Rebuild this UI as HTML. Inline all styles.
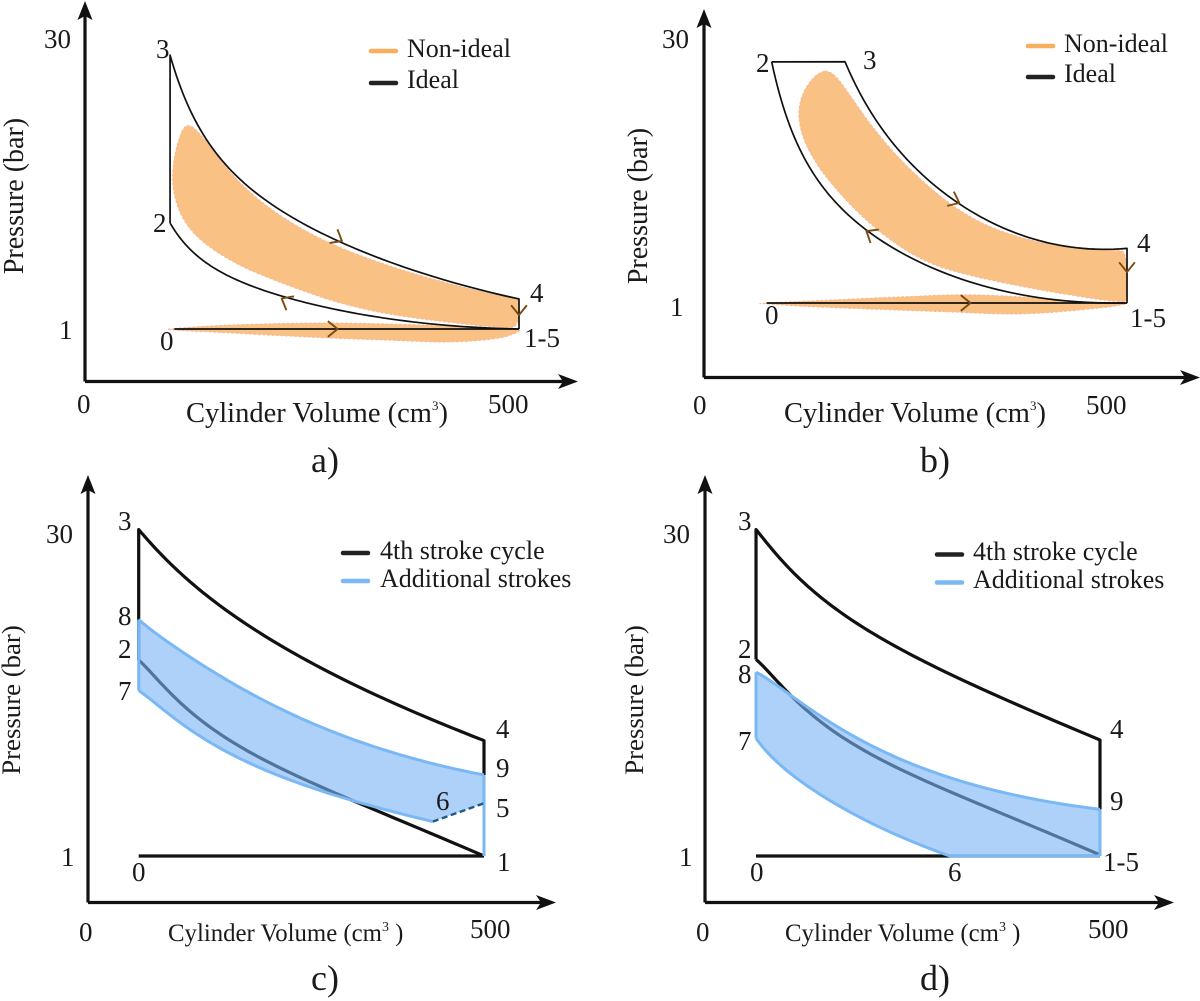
<!DOCTYPE html>
<html lang="en">
<head>
<meta charset="utf-8">
<title>Pressure-volume cycle diagrams</title>
<style>
  html, body { margin: 0; padding: 0; background: #fff; }
  svg { display: block; filter: blur(0.35px); }
  text { font-family: "Liberation Serif", serif; fill: #1a1a1a; }
  .tick { font-size: 27px; }
  .pt { font-size: 27px; }
  .ytitle { font-size: 28px; }
  .xtitle { font-size: 28.5px; }
  .xtitle2 { font-size: 24.8px; }
  .leg { font-size: 26px; }
  .cap { font-size: 36px; }
  .axis { stroke: #111; stroke-width: 3.2; fill: none; }
  .head { fill: #111; stroke: none; }
</style>
</head>
<body>
<svg id="figure" xmlns="http://www.w3.org/2000/svg" width="1200" height="1001" viewBox="0 0 1200 1001">
  <rect x="0" y="0" width="1200" height="1001" fill="#fff"/>

  <!-- Panel a -->
  <g id="panel-a">
    <g id="marks-a"></g>
    <path class="axis" d="M85 381.5V12M85 381.5H566"/>
    <path class="head" d="M85 1L92.5 20L85 16L77.5 20Z"/>
    <path class="head" d="M578 381.5L558 374L563 381.5L558 389Z"/>
    <text class="tick" x="44" y="48">30</text>
    <text class="tick" x="59" y="339">1</text>
    <text class="tick" x="77" y="413">0</text>
    <text class="tick" x="488" y="413">500</text>
    <text class="ytitle" transform="translate(23,196) rotate(-90)" text-anchor="middle">Pressure (bar)</text>
    <text class="xtitle" x="186" y="422">Cylinder Volume (cm<tspan font-size="13" dy="-12">3</tspan><tspan dy="12">)</tspan></text>
    <text class="pt" x="156" y="58">3</text>
    <text class="pt" x="153" y="232">2</text>
    <text class="pt" x="160" y="350">0</text>
    <text class="pt" x="530" y="302">4</text>
    <text class="pt" x="524" y="347">1-5</text>
    <line x1="371" y1="51" x2="396" y2="51" stroke="#f7ae5e" stroke-width="4.5" stroke-linecap="round"/>
    <line x1="371" y1="83" x2="396" y2="83" stroke="#222" stroke-width="4.5" stroke-linecap="round"/>
    <text class="leg" x="407" y="57">Non-ideal</text>
    <text class="leg" x="407" y="88">Ideal</text>
    <text class="cap" x="311" y="472">a)</text>
  </g>

  <!-- Panel b -->
  <g id="panel-b">
    <g id="marks-b"></g>
    <path class="axis" d="M704 377.5V20M704 377.5H1188"/>
    <path class="head" d="M704 9L711.5 28L704 24L696.5 28Z"/>
    <path class="head" d="M1200 377.5L1180 370L1185 377.5L1180 385Z"/>
    <text class="tick" x="662" y="48">30</text>
    <text class="tick" x="670" y="316">1</text>
    <text class="tick" x="693" y="414">0</text>
    <text class="tick" x="1086" y="414">500</text>
    <text class="ytitle" transform="translate(647,206) rotate(-90)" text-anchor="middle">Pressure (bar)</text>
    <text class="xtitle" x="784" y="422">Cylinder Volume (cm<tspan font-size="13" dy="-12">3</tspan><tspan dy="12">)</tspan></text>
    <text class="pt" x="756" y="72">2</text>
    <text class="pt" x="863" y="69">3</text>
    <text class="pt" x="765" y="324">0</text>
    <text class="pt" x="1137" y="252">4</text>
    <text class="pt" x="1130" y="327">1-5</text>
    <line x1="1028" y1="46" x2="1053" y2="46" stroke="#f7ae5e" stroke-width="4.5" stroke-linecap="round"/>
    <line x1="1028" y1="77" x2="1053" y2="77" stroke="#222" stroke-width="4.5" stroke-linecap="round"/>
    <text class="leg" x="1064" y="52">Non-ideal</text>
    <text class="leg" x="1064" y="82">Ideal</text>
    <text class="cap" x="920" y="472">b)</text>
  </g>

  <!-- Panel c -->
  <g id="panel-c">
    <g id="marks-c"></g>
    <path class="axis" d="M88 902.5V486M88 902.5H544"/>
    <path class="head" d="M88 475L95.5 494L88 490L80.5 494Z"/>
    <path class="head" d="M556 902.5L536 895L541 902.5L536 910Z"/>
    <text class="tick" x="46" y="543">30</text>
    <text class="tick" x="61" y="866">1</text>
    <text class="tick" x="79" y="941">0</text>
    <text class="tick" x="470" y="938">500</text>
    <text class="ytitle" style="font-size:26.8px" transform="translate(20,700) rotate(-90)" text-anchor="middle">Pressure (bar)</text>
    <text class="xtitle2" x="168" y="941">Cylinder Volume (cm<tspan font-size="14" dy="-10">3</tspan><tspan dy="10"> )</tspan></text>
    <text class="pt" x="118" y="530">3</text>
    <text class="pt" x="118" y="625">8</text>
    <text class="pt" x="118" y="658">2</text>
    <text class="pt" x="118" y="700">7</text>
    <text class="pt" x="132" y="881">0</text>
    <text class="pt" x="497" y="871">1</text>
    <text class="pt" x="496" y="738">4</text>
    <text class="pt" x="496" y="777">9</text>
    <text class="pt" x="496" y="817">5</text>
    <text class="pt" x="436" y="810">6</text>
    <line x1="343" y1="553" x2="368" y2="553" stroke="#222" stroke-width="4.5" stroke-linecap="round"/>
    <line x1="343" y1="581" x2="368" y2="581" stroke="#7ab8f5" stroke-width="4.5" stroke-linecap="round"/>
    <text class="leg" x="380" y="559">4th stroke cycle</text>
    <text class="leg" x="380" y="587">Additional strokes</text>
    <text class="cap" x="311" y="990">c)</text>
  </g>

  <!-- Panel d -->
  <g id="panel-d">
    <g id="marks-d"></g>
    <path class="axis" d="M705 902.5V486M705 902.5H1162"/>
    <path class="head" d="M705 475L712.5 494L705 490L697.5 494Z"/>
    <path class="head" d="M1174 902.5L1154 895L1159 902.5L1154 910Z"/>
    <text class="tick" x="663" y="543">30</text>
    <text class="tick" x="679" y="866">1</text>
    <text class="tick" x="696" y="941">0</text>
    <text class="tick" x="1088" y="938">500</text>
    <text class="ytitle" style="font-size:26.8px" transform="translate(643,700) rotate(-90)" text-anchor="middle">Pressure (bar)</text>
    <text class="xtitle2" x="785" y="941">Cylinder Volume (cm<tspan font-size="14" dy="-10">3</tspan><tspan dy="10"> )</tspan></text>
    <text class="pt" x="738" y="530">3</text>
    <text class="pt" x="738" y="658">2</text>
    <text class="pt" x="738" y="683">8</text>
    <text class="pt" x="738" y="750">7</text>
    <text class="pt" x="750" y="881">0</text>
    <text class="pt" x="948" y="881">6</text>
    <text class="pt" x="1103" y="871">1-5</text>
    <text class="pt" x="1110" y="738">4</text>
    <text class="pt" x="1110" y="810">9</text>
    <line x1="937" y1="554.5" x2="962" y2="554.5" stroke="#222" stroke-width="4.5" stroke-linecap="round"/>
    <line x1="937" y1="582.5" x2="962" y2="582.5" stroke="#7ab8f5" stroke-width="4.5" stroke-linecap="round"/>
    <text class="leg" x="973" y="560">4th stroke cycle</text>
    <text class="leg" x="973" y="588">Additional strokes</text>
    <text class="cap" x="920" y="990">d)</text>
  </g>
</svg>

<script>
// ---- Panel a data (volume in cm3, pressure in bar) ----
const aExpansionVolume = [98, 105.6, 117, 132.5, 152, 175, 202, 240, 286, 317, 389.4, 444, 500];
const aExpansionPressure = [28.4, 25.7, 23.6, 21.2, 18.7, 16.2, 14.2, 12.1, 9.9, 8.9, 6.6, 5.25, 4.0];
const aCompressionVolume = [98, 113, 136, 163, 194, 228, 263, 305, 389, 444, 500];
const aCompressionPressure = [11.6, 9.7, 7.9, 6.4, 5.2, 4.2, 3.6, 2.6, 1.6, 1.2, 1.0];
const aIntakeVolume = [103, 500];
const aIntakePressure = [1, 1];
const aLoopVolume = [121, 134.5, 152, 171, 198, 232, 274, 317, 367.5, 433, 490, 499.4, 498, 484, 411, 345.6, 286, 259, 216.6, 182, 152, 129, 113, 104, 99.6, 101, 108.4, 115];
const aLoopPressure = [21.5, 20.5, 18.3, 16.2, 13.9, 11.9, 9.7, 8.4, 6.7, 5.2, 4.1, 3.7, 1.7, 1.15, 1.7, 2.4, 3.7, 4.6, 5.9, 7.1, 8.6, 10.1, 11.7, 13.7, 15.7, 17.7, 20.4, 21.4];
const aPumpVolume = [103, 168, 278, 389, 477, 501, 477, 420, 345, 256, 168, 103];
const aPumpPressure = [1.05, 1.4, 1.6, 1.4, 1.1, 0.9, 0.1, -0.3, -0.1, 0.2, 0.6, 0.9];
const aArrowVolume = [296, 226.6, 500, 291];
const aArrowPressure = [9.8, 4.05, 2.4, 1];
const aArrowHeading = [30, 209, 90, 0];

// ---- Panel b data ----
const bExpansionVolume = [166.7, 180.5, 200, 223.8, 251.4, 279, 302.6, 350, 385, 422.6, 463, 500];
const bExpansionPressure = [27.5, 24.8, 21.5, 18.6, 15.5, 13.5, 11.9, 9.5, 8.0, 7.3, 7.0, 7.0];
const bCompressionVolume = [80, 86, 95.7, 109.6, 129, 153, 180.5, 204, 243.5, 302.6, 350, 421, 500];
const bCompressionPressure = [27.5, 24.8, 21.7, 18.5, 15.4, 12.7, 10.1, 8.1, 5.5, 3.5, 2.7, 1.55, 1.0];
const bIntakeVolume = [74, 500];
const bIntakePressure = [1, 1];
const bLoopVolume = [144, 155, 170.6, 196, 223.8, 255, 291, 322, 350, 399.5, 445.6, 486, 498, 499, 486, 422.6, 350, 302.6, 270.7, 243.5, 204, 180.5, 153, 131, 114.5, 109.8, 114.5, 129];
const bLoopPressure = [26.8, 26.2, 24.1, 20.6, 17.4, 14.7, 11.6, 10.1, 8.8, 7.4, 7.0, 6.8, 6.05, 1.66, 1.2, 1.9, 3.3, 4.2, 5.2, 6.3, 9.0, 11.0, 13.8, 16.3, 19.3, 21.8, 24.0, 26.0];
const bPumpVolume = [74, 150, 240, 308, 376, 444, 500, 467, 376, 285, 195, 127, 74];
const bPumpPressure = [1, 1.33, 1.7, 1.9, 1.66, 1.14, 1.03, 0.45, -0.2, 0.04, 0.34, 0.6, 0.9];
const bArrowVolume = [301.8, 192, 500, 315];
const bArrowPressure = [12, 8.9, 4.4, 1];
const bArrowHeading = [25, 212, 90, 0];

// ---- Panel c data ----
const cExpansionVolume = [64, 95, 128.6, 162.3, 195.8, 242, 296, 355.6, 435.4, 500];
const cExpansionPressure = [30.4, 28, 25.7, 23.8, 22, 20, 17.9, 15.95, 12.95, 11.4];
const cCompressionVolume = [64, 95, 128.6, 170.6, 221, 280, 343, 418.7, 500];
const cCompressionPressure = [18.65, 16.4, 14, 11.7, 9.8, 7.7, 5.8, 3.3, 1];
const cIntakeVolume = [64, 500];
const cIntakePressure = [1, 1];
const cUpperVolume = [64, 95, 137, 179, 242, 305, 355.6, 393, 456, 500];
const cUpperPressure = [22.3, 20.6, 18.5, 16.7, 14.3, 12.35, 11.0, 10.1, 8.9, 8.3];
const cLowerVolume = [64, 95, 137, 179, 221, 271.6, 330.4, 372.4, 435.4];
const cLowerPressure = [15.9, 14.15, 12.05, 10.25, 8.75, 7.4, 6.2, 5.15, 4.1];
const cPointFiveVolume = [500];
const cPointFivePressure = [5.75];

// ---- Panel d data ----
const dExpansionVolume = [64.6, 90.8, 124.4, 162.4, 204.7, 255.3, 310, 360.8, 407, 500];
const dExpansionPressure = [30.4, 28.1, 25.7, 23.45, 21.35, 19.26, 17.46, 15.8, 14.15, 11.45];
const dCompressionVolume = [64.6, 82.3, 111.8, 149.8, 192, 247, 310, 360.8, 407, 500];
const dCompressionPressure = [18.7, 17.3, 15.35, 12.95, 10.85, 8.75, 6.8, 5.3, 3.95, 1.1];
const dIntakeVolume = [64.6, 500];
const dIntakePressure = [1, 1];
const dUpperVolume = [64.6, 116, 162.4, 225.7, 289, 360.8, 386, 441, 500];
const dUpperPressure = [17.55, 15.05, 12.95, 10.4, 8.45, 7.1, 6.65, 5.75, 5.2];
const dLowerVolume = [64.6, 90.8, 124.4, 175, 234, 276.3, 310];
const dLowerPressure = [11.6, 9.5, 7.55, 5.3, 3.2, 1.85, 1];
const dBaseVolume = [310, 500];
const dBasePressure = [1, 1];

// ---- Axis functions ----
function linearVolume(x0, x500) {
  return function (v) { return x0 + v * (x500 - x0) / 500; };
}
function linearPressure(y1, y30) {
  return function (p) { return y1 - (p - 1) * (y1 - y30) / 29; };
}
const axesA = { x: linearVolume(85, 519), y: linearPressure(329, 39) };
const axesB = { x: linearVolume(704, 1127), y: linearPressure(303, 39) };
const axesC = { x: linearVolume(88, 484), y: linearPressure(856, 534) };
const axesD = { x: linearVolume(705, 1100), y: linearPressure(856, 534) };

const SVG_NS = 'http://www.w3.org/2000/svg';

function toPixels(axes, volumes, pressures) {
  return volumes.map(function (v, i) { return [axes.x(v), axes.y(pressures[i])]; });
}
function fmt(n) { return n.toFixed(2); }

// Least-squares quartic of pressure over log volume, so the hand-read samples
// draw as one smooth process curve. End samples are weighted to anchor the corners.
function fitCurve(axes, volumes, pressures) {
  const degree = 4, size = degree + 1, last = volumes.length - 1;
  const lo = Math.log(volumes[0]), hi = Math.log(volumes[last]);
  const toT = function (v) { return 2 * (Math.log(v) - lo) / (hi - lo) - 1; };
  const A = [];
  for (let r = 0; r < size; r++) { A.push(new Array(size + 1).fill(0)); }
  volumes.forEach(function (v, i) {
    const w = (i === 0 || i === last) ? 40 : 1;
    const t = toT(v);
    for (let r = 0; r < size; r++) {
      for (let c = 0; c < size; c++) { A[r][c] += w * Math.pow(t, r + c); }
      A[r][size] += w * pressures[i] * Math.pow(t, r);
    }
  });
  for (let c = 0; c < size; c++) {
    let pivot = c;
    for (let r = c + 1; r < size; r++) { if (Math.abs(A[r][c]) > Math.abs(A[pivot][c])) pivot = r; }
    const tmp = A[c]; A[c] = A[pivot]; A[pivot] = tmp;
    for (let r = 0; r < size; r++) {
      if (r === c) continue;
      const f = A[r][c] / A[c][c];
      for (let k = c; k <= size; k++) { A[r][k] -= f * A[c][k]; }
    }
  }
  const coef = A.map(function (row, i) { return row[size] / row[i]; });
  const out = [];
  const samples = 70;
  for (let s = 0; s <= samples; s++) {
    const t = -1 + 2 * s / samples;
    let p = 0;
    for (let k = degree; k >= 0; k--) { p = p * t + coef[k]; }
    const v = Math.exp(lo + (t + 1) / 2 * (hi - lo));
    out.push([axes.x(v), axes.y(p)]);
  }
  return out;
}
function polyline(pts) {
  let d = '';
  pts.forEach(function (p) { d += lineTo(p); });
  return d;
}

// Light circular smoothing of a closed outline before splining.
// The squared-off end of the loop (high volume) keeps its corners.
function smoothClosed(pts, volumes) {
  const n = pts.length;
  return pts.map(function (p, i) {
    if (volumes[i] > 470) return p;
    const a = pts[(i - 1 + n) % n], b = pts[(i + 1) % n];
    return [0.25 * a[0] + 0.5 * p[0] + 0.25 * b[0], 0.25 * a[1] + 0.5 * p[1] + 0.25 * b[1]];
  });
}

// Catmull-Rom spline through a closed outline.
function closedSpline(pts) {
  const n = pts.length;
  let d = moveTo(pts[0]);
  for (let i = 0; i < n; i++) {
    const p0 = pts[(i - 1 + n) % n];
    const p1 = pts[i];
    const p2 = pts[(i + 1) % n];
    const p3 = pts[(i + 2) % n];
    const c1x = p1[0] + (p2[0] - p0[0]) / 6;
    const c1y = p1[1] + (p2[1] - p0[1]) / 6;
    const c2x = p2[0] - (p3[0] - p1[0]) / 6;
    const c2y = p2[1] - (p3[1] - p1[1]) / 6;
    d += 'C' + fmt(c1x) + ' ' + fmt(c1y) + ' ' + fmt(c2x) + ' ' + fmt(c2y) + ' ' + fmt(p2[0]) + ' ' + fmt(p2[1]);
  }
  return d + 'Z';
}
function moveTo(p) { return 'M' + fmt(p[0]) + ' ' + fmt(p[1]); }
function lineTo(p) { return 'L' + fmt(p[0]) + ' ' + fmt(p[1]); }

function addPath(parent, name, d, style) {
  const el = document.createElementNS(SVG_NS, 'path');
  
  
  el.setAttribute('d', d);
  el.setAttribute('fill', style.fill || 'none');
  if (style.fillOpacity) el.setAttribute('fill-opacity', style.fillOpacity);
  el.setAttribute('stroke', style.stroke || 'none');
  el.setAttribute('stroke-width', style.width || 0);
  el.setAttribute('stroke-linejoin', 'round');
  if (style.dash) el.setAttribute('stroke-dasharray', style.dash);
  parent.appendChild(el);
  return el;
}

function drawArrows(parent, axes, volumes, pressures, headings) {
  volumes.forEach(function (v, i) {
    const tx = axes.x(v), ty = axes.y(pressures[i]);
    const a = headings[i] * Math.PI / 180;
    const len = 12.5, spread = 0.68;
    const w1 = [tx - len * Math.cos(a - spread), ty - len * Math.sin(a - spread)];
    const w2 = [tx - len * Math.cos(a + spread), ty - len * Math.sin(a + spread)];
    const d = moveTo(w1) + lineTo([tx, ty]) + lineTo(w2);
    addPath(parent, 'direction-arrow', d, { stroke: '#7a4a12', width: 1.9 });
  });
}

// ---- Panels a & b: ideal vs non-ideal ----
function drawIdealPanel(groupId, axes, s) {
  const g = document.getElementById(groupId);
  const orange = { fill: '#f9c184', stroke: '#f6b89c', width: 1, dash: '2.5 2' };
  addPath(g, 'non-ideal-loop', closedSpline(smoothClosed(toPixels(axes, s.loopV, s.loopP), s.loopV)), orange);
  addPath(g, 'non-ideal-pumping-loop', closedSpline(toPixels(axes, s.pumpV, s.pumpP)), orange);
  const exp = fitCurve(axes, s.expV, s.expP);
  const cmp = fitCurve(axes, s.cmpV, s.cmpP);
  const line = { stroke: '#111', width: 1.7 };
  const cycle = moveTo(cmp[0]) + polyline(exp) + lineTo(cmp[cmp.length - 1]);
  addPath(g, 'ideal-expansion-curve', cycle, line);
  addPath(g, 'ideal-compression-curve', moveTo(cmp[0]) + polyline(cmp), line);
  const intake = toPixels(axes, s.intV, s.intP);
  addPath(g, 'ideal-intake-line', moveTo(intake[0]) + lineTo(intake[1]), line);
  drawArrows(g, axes, s.arrV, s.arrP, s.arrH);
}

drawIdealPanel('marks-a', axesA, {
  loopV: aLoopVolume, loopP: aLoopPressure, pumpV: aPumpVolume, pumpP: aPumpPressure,
  expV: aExpansionVolume, expP: aExpansionPressure, cmpV: aCompressionVolume, cmpP: aCompressionPressure,
  intV: aIntakeVolume, intP: aIntakePressure, arrV: aArrowVolume, arrP: aArrowPressure, arrH: aArrowHeading
});
drawIdealPanel('marks-b', axesB, {
  loopV: bLoopVolume, loopP: bLoopPressure, pumpV: bPumpVolume, pumpP: bPumpPressure,
  expV: bExpansionVolume, expP: bExpansionPressure, cmpV: bCompressionVolume, cmpP: bCompressionPressure,
  intV: bIntakeVolume, intP: bIntakePressure, arrV: bArrowVolume, arrP: bArrowPressure, arrH: bArrowHeading
});

// ---- Panels c & d: additional strokes ----
const BLUE = '#7ab8f5';
const BAND = { fill: 'rgb(121,180,244)', fillOpacity: '0.61' };

function drawBlackCycle(g, axes, expV, expP, cmpV, cmpP, intV, intP, stopPressure) {
  const exp = fitCurve(axes, expV, expP);
  const cmp = fitCurve(axes, cmpV, cmpP);
  const intake = toPixels(axes, intV, intP);
  const line = { stroke: '#111', width: 3.2 };
  const stop = [exp[exp.length - 1][0], axes.y(stopPressure)];
  addPath(g, 'cycle-expansion-curve', moveTo(cmp[0]) + polyline(exp) + lineTo(stop), line);
  addPath(g, 'cycle-compression-curve', moveTo(cmp[0]) + polyline(cmp), line);
  addPath(g, 'cycle-intake-line', moveTo(intake[0]) + lineTo(intake[1]), line);
}

(function drawPanelC() {
  const g = document.getElementById('marks-c');
  drawBlackCycle(g, axesC, cExpansionVolume, cExpansionPressure, cCompressionVolume, cCompressionPressure, cIntakeVolume, cIntakePressure, cUpperPressure[cUpperPressure.length - 1]);
  const up = fitCurve(axesC, cUpperVolume, cUpperPressure);
  const low = fitCurve(axesC, cLowerVolume, cLowerPressure);
  const five = [axesC.x(cPointFiveVolume[0]), axesC.y(cPointFivePressure[0])];
  const lowRev = low.slice().reverse();
  const six = low[low.length - 1];
  const bandPath = moveTo(up[0]) + polyline(up) + lineTo(five) + polyline(lowRev) + 'Z';
  addPath(g, 'additional-strokes-band', bandPath, BAND);
  const stroke = { stroke: BLUE, width: 3 };
  addPath(g, 'additional-strokes-upper-curve', moveTo(up[0]) + polyline(up), stroke);
  addPath(g, 'additional-strokes-lower-curve', moveTo(low[0]) + polyline(low), stroke);
  addPath(g, 'additional-strokes-left-edge', moveTo(up[0]) + lineTo(low[0]), stroke);
  addPath(g, 'additional-strokes-right-edge', moveTo(up[up.length - 1]) + lineTo([five[0], axesC.y(1)]), stroke);
  addPath(g, 'exhaust-dashed-segment', moveTo(six) + lineTo(five), { stroke: '#1f5a85', width: 2.4, dash: '6 3.5' });
})();

(function drawPanelD() {
  const g = document.getElementById('marks-d');
  drawBlackCycle(g, axesD, dExpansionVolume, dExpansionPressure, dCompressionVolume, dCompressionPressure, dIntakeVolume, dIntakePressure, dUpperPressure[dUpperPressure.length - 1]);
  const up = fitCurve(axesD, dUpperVolume, dUpperPressure);
  const low = fitCurve(axesD, dLowerVolume, dLowerPressure);
  const base = toPixels(axesD, dBaseVolume, dBasePressure);
  const lowRev = low.slice().reverse();
  const bandPath = moveTo(up[0]) + polyline(up) + lineTo(base[1]) + polyline(lowRev) + 'Z';
  addPath(g, 'additional-strokes-band', bandPath, BAND);
  const stroke = { stroke: BLUE, width: 3 };
  addPath(g, 'additional-strokes-upper-curve', moveTo(up[0]) + polyline(up), stroke);
  addPath(g, 'additional-strokes-lower-curve', moveTo(low[0]) + polyline(low) + lineTo(base[1]), stroke);
  addPath(g, 'additional-strokes-left-edge', moveTo(up[0]) + lineTo(low[0]), stroke);
  addPath(g, 'additional-strokes-right-edge', moveTo(up[up.length - 1]) + lineTo(base[1]), stroke);
})();
</script>
</body>
</html>
